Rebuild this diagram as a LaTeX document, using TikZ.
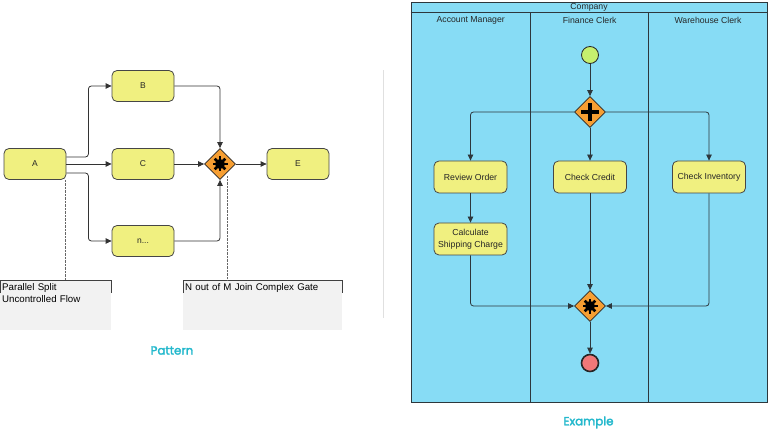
\documentclass[tikz,border=0pt]{standalone}
\usepackage{fontspec}
\setmainfont{Liberation Sans}
\newfontfamily\titlefont[FakeBold=2.5]{Poppins}
\usetikzlibrary{shapes.geometric,arrows.meta}
\definecolor{actfill}{RGB}{240,240,128}
\definecolor{edgecol}{RGB}{70,70,70}
\definecolor{gatefill}{RGB}{246,158,50}
\definecolor{startfill}{RGB}{198,240,110}
\definecolor{endfill}{RGB}{240,120,120}
\definecolor{lanefill}{RGB}{135,220,245}
\definecolor{poolline}{RGB}{45,55,60}
\definecolor{titlecol}{RGB}{36,184,204}
\definecolor{notefill}{RGB}{242,242,242}
\begin{document}
\begin{tikzpicture}[x=1pt,y=-1pt,
  act/.style={draw=edgecol, line width=0.8pt, fill=actfill, rounded corners=5pt,
    minimum width=62pt, minimum height=31pt, inner sep=1pt,
    font=\fontsize{8.5}{10}\selectfont, text=black!85},
  actx/.style={act, minimum width=73pt, minimum height=32pt, align=center,
    font=\fontsize{8.7}{12}\selectfont},
  gate/.style={diamond, draw=black!85, line width=0.8pt, fill=gatefill,
    minimum width=31pt, minimum height=31pt, inner sep=0pt},
  flow/.style={draw=black!80, line width=0.8pt, rounded corners=3pt,
    -{Triangle[width=5.5pt,length=6pt]}},
  xflow/.style={flow, draw=poolline},
  notebox/.style={fill=notefill, anchor=north west, inner sep=2pt,
    text width=#1, align=left, font=\fontsize{9.7}{12}\selectfont,
    minimum height=50pt, text depth=36pt},
  noteedge/.style={draw=black!75, line width=0.8pt},
  lanelabel/.style={font=\fontsize{8.7}{10}\selectfont, text=black!85},
  title/.style={font=\titlefont\fontsize{11.8}{14}\selectfont, text=titlecol},
  evt/.style={circle, draw=black!85, minimum size=17pt, inner sep=0pt}
]
\useasboundingbox (0,0) rectangle (768,430);

% ---------------- Pattern ----------------
\node[act] (A) at (35,164) {A};
\node[act] (B) at (143,86) {B};
\node[act] (C) at (143,164) {C};
\node[act] (N) at (143,241) {n...};
\node[gate] (G1) at (220,164) {};
\node[act] (E) at (298,164) {E};
\fill[black] (G1.center) circle (5pt);
\foreach \a in {0,45,...,315}
  \draw[black, line width=2.6pt] (G1.center) -- ++(\a:7.5pt);

\draw[flow] ([yshift=7pt]A.east) -- ++(22,0) |- (B.west);
\draw[flow] (A.east) -- (C.west);
\draw[flow] ([yshift=-9pt]A.east) -- ++(22,0) |- (N.west);
\draw[flow] (B.east) -| (G1.north);
\draw[flow] (C.east) -- (G1.west);
\draw[flow] (N.east) -| (G1.south);
\draw[flow] (G1.east) -- (E.west);

\node[notebox=107pt, minimum width=111pt] (N1) at (0,280) {Parallel Split\\Uncontrolled Flow};
\node[notebox=155pt, minimum width=159pt] (N2) at (183,280) {N out of M Join Complex Gate};
\draw[noteedge] ([yshift=-13pt]N1.north west) -- (N1.north west) -- (N1.north east) -- ([yshift=-13pt]N1.north east);
\draw[noteedge] ([yshift=-13pt]N2.north west) -- (N2.north west) -- (N2.north east) -- ([yshift=-13pt]N2.north east);
\draw[black!60, densely dotted] ([xshift=-1pt]A.south east) -- ([xshift=-1pt]A.south east |- N1.north);
\coordinate (g1d) at ([xshift=7pt,yshift=-12pt]G1.center);
\draw[black!60, densely dotted] (g1d) -- (g1d |- N2.north);

\node[title] (pattern) at (172,350.5) {Pattern};
\draw[black!12, line width=0.8pt] (383,70) -- (383,318);

% ---------------- Example ----------------
\node[draw=poolline, line width=1pt, fill=lanefill, anchor=north west,
  minimum width=356.5pt, minimum height=400pt, inner sep=0pt] (pool) at (410.5,2) {};
\draw[poolline, line width=1pt] (410.5,13) -- (767,13);
\draw[poolline, line width=0.9pt] (530.7,13) -- (530.7,402);
\draw[poolline, line width=0.9pt] (648.7,13) -- (648.7,402);
\node[lanelabel] (company) at (589,7.5) {Company};
\node[lanelabel] (lane1) at (470.7,20.5) {Account Manager};
\node[lanelabel] (lane2) at (589.7,20.5) {Finance Clerk};
\node[lanelabel] (lane3) at (708,20.5) {Warehouse Clerk};

\node[evt, line width=0.8pt, fill=startfill] (S) at (590,55) {};
\node[gate] (G3) at (590,112) {};
\draw[black, line width=3.8pt] ([xshift=-9pt]G3.center) -- ([xshift=9pt]G3.center);
\draw[black, line width=3.8pt] ([yshift=-9pt]G3.center) -- ([yshift=9pt]G3.center);
\node[actx] (rev) at (470.5,177) {Review Order};
\node[actx] (cc) at (590,177) {Check Credit};
\node[actx] (inv) at (709,177) {Check Inventory};
\node[actx] (calc) at (470.5,239) {Calculate\\Shipping Charge};
\node[gate] (G4) at (590,306) {};
\fill[black] (G4.center) circle (5pt);
\foreach \a in {0,45,...,315}
  \draw[black, line width=2.6pt] (G4.center) -- ++(\a:7.5pt);
\node[evt, line width=1.6pt, fill=endfill] (End) at (590,363) {};

\draw[xflow] (S.south) -- (G3.north);
\draw[xflow] (G3.west) -| (rev.north);
\draw[xflow] (G3.east) -| (inv.north);
\draw[xflow] (G3.south) -- (cc.north);
\draw[xflow] (rev.south) -- (calc.north);
\draw[xflow] (calc.south) |- (G4.west);
\draw[xflow] (cc.south) -- (G4.north);
\draw[xflow] (inv.south) |- (G4.east);
\draw[xflow] (G4.south) -- (End.north);

\node[title] (example) at (588.5,422.5) {Example};
\end{tikzpicture}
\end{document}
